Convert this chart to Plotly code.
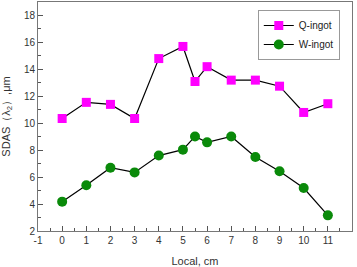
import plotly.graph_objects as go

x_local = [0, 1, 2, 3, 4, 5, 5.5, 6, 7, 8, 9, 10, 11]
q_ingot = [10.35, 11.55, 11.4, 10.35, 14.8, 15.7, 13.1, 14.2, 13.2, 13.2, 12.75, 10.8, 11.45]
w_ingot = [4.18, 5.39, 6.7, 6.35, 7.6, 8.04, 9.02, 8.58, 9.02, 7.49, 6.43, 5.19, 3.16]
x_ticks = [-1, 0, 1, 2, 3, 4, 5, 6, 7, 8, 9, 10, 11, 12]
x_tick_labels = ["-1", "0", "1", "2", "3", "4", "5", "6", "7", "8", "9", "10", "11", "12"]

font = "Arial, Liberation Sans, sans-serif"

fig = go.Figure()
fig.add_trace(go.Scatter(
    x=x_local, y=q_ingot, name="Q-ingot", mode="lines+markers",
    line=dict(color="black", width=1.2),
    marker=dict(symbol="square", size=9, color="#ff00ff"),
))
fig.add_trace(go.Scatter(
    x=x_local, y=w_ingot, name="W-ingot", mode="lines+markers",
    line=dict(color="black", width=1.2),
    marker=dict(symbol="circle", size=10, color="#0a8a0a"),
))

axis_common = dict(
    showline=True, linecolor="#777777", linewidth=1, mirror=True,
    ticks="inside", ticklen=5, tickcolor="#555555", tickwidth=1,
    showgrid=False, zeroline=False, automargin=False,
    tickfont=dict(family=font, size=10, color="#333333"),
)

fig.update_xaxes(
    range=[-1, 12], tickvals=x_ticks, ticktext=x_tick_labels,
    minor=dict(ticks="inside", ticklen=3, dtick=0.5, tickcolor="#555555"),
    title=dict(text="Local, cm", font=dict(family=font, size=11, color="#333333")),
    **axis_common,
)
fig.update_yaxes(
    range=[2, 19], dtick=2, tick0=2,
    minor=dict(ticks="inside", ticklen=3, dtick=1, tickcolor="#555555"),
    title=dict(text="SDAS（λ<sub>2</sub>）,μm", font=dict(family=font, size=11, color="#333333")),
    **axis_common,
)

fig.update_layout(
    width=357, height=267,
    margin=dict(l=38, r=5, t=2, b=36, autoexpand=False),
    paper_bgcolor="white", plot_bgcolor="white",
    showlegend=True,
    legend=dict(
        x=0.70, y=0.965, xanchor="left", yanchor="top",
        bordercolor="#999999", borderwidth=1, bgcolor="white",
        font=dict(family=font, size=10, color="#222222"),
        tracegroupgap=0, itemwidth=30,
    ),
)

fig.write_html(
    "out.html",
    config={"displayModeBar": False},
    post_script="document.body.style.margin='0';document.body.style.overflow='hidden';",
)
